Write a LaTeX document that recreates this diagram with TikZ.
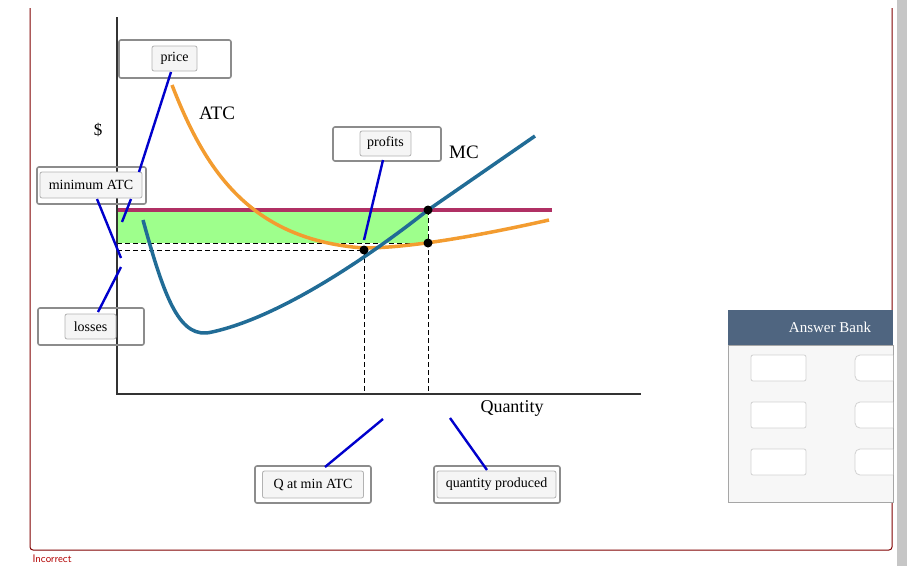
\documentclass[tikz,border=0pt]{standalone}
\usepackage{fontspec}
\setmainfont{Liberation Serif}
\begin{document}
\begin{tikzpicture}[x=1pt,y=-1pt,
  outer/.style={draw=gray!90,line width=1.6pt,rounded corners=2pt},
  inner/.style={draw=gray!60,fill=gray!8,rounded corners=2pt,line width=0.8pt,font=\fontsize{14}{16}\selectfont,inner sep=0pt},
  blue/.style={draw=blue!80!black,line width=2.4pt},
  dot/.style={circle,fill=black,inner sep=0pt,minimum size=9pt},
  dsh/.style={line width=1pt,dash pattern=on 5pt off 3pt},
  bankbtn/.style={draw=gray!35,fill=white,rounded corners=2pt,line width=0.8pt}]
\useasboundingbox (0,0) rectangle (907,566);
\fill[gray!45] (897,0) rectangle (907,566);
\draw[red!50!black,line width=1pt,rounded corners=3pt] (30,8) -- (30,550) -- (892,550) -- (892,8);
\node[anchor=west,text=red!70!black,font=\fontsize{11}{12}\selectfont\sffamily] (inc) at (29,559) {Incorrect};
% shading and lines
\fill[green!80!lime!45] (117,212) rectangle (428,243);
\draw[dsh] (117,243) -- (428,243);
\draw[dsh] (117,250) -- (364,250);
\draw[dsh] (364,250) -- (364,394);
\draw[dsh] (428,210) -- (428,394);
\draw[color={rgb,255:red,176;green,48;blue,100},line width=3.5pt] (117,210) -- (552,210);
% axes
\draw[line width=1.1pt,black!80] (117,17) -- (117,394) -- (641,394);
% ATC
\draw[color={rgb,255:red,243;green,156;blue,48},line width=3.5pt]
  (172,85) .. controls (205,170) and (250,240) .. (364,248)
  .. controls (400,248) and (460,240) .. (549,220);
% MC
\draw[color={rgb,255:red,33;green,108;blue,150},line width=3.5pt]
  (143,220) .. controls (165,300) and (180,340) .. (212,332)
  .. controls (290,315) and (390,240) .. (428,210) -- (535,136);
\node[dot] (d1) at (364,250) {};
\node[dot] (d2) at (428,210) {};
\node[dot] (d3) at (428,243) {};
% labels
\node[font=\fontsize{17}{19}\selectfont] (dol) at (98,130) {\$};
\node[font=\fontsize{19}{21}\selectfont] (atc) at (217,113) {ATC};
\node[font=\fontsize{19}{21}\selectfont] (mc) at (464,152) {MC};
\node[font=\fontsize{18}{20}\selectfont] (qty) at (512,408) {Quantity};
% boxes
\draw[outer] (119,40) rectangle (231,78);
\node[inner,minimum width=45pt,minimum height=25pt] (price) at (174.5,58.5) {price};
\draw[outer] (37,167) rectangle (146,204);
\node[inner,minimum width=102pt,minimum height=26pt] (minatc) at (91,185) {minimum ATC};
\draw[outer] (38,308) rectangle (144,345);
\node[inner,minimum width=51pt,minimum height=25pt] (losses) at (90.5,326.5) {losses};
\draw[outer] (333,127) rectangle (441,161);
\node[inner,minimum width=51pt,minimum height=25pt] (profits) at (385.5,143.5) {profits};
\draw[outer] (255,466) rectangle (371,503);
\node[inner,minimum width=101pt,minimum height=27pt] (qmin) at (313,484.5) {Q at min ATC};
\draw[outer] (434,466) rectangle (560,503);
\node[inner,minimum width=119pt,minimum height=27pt] (qprod) at (496.5,484.5) {quantity produced};
% connectors
\coordinate (p0) at (171,72); \coordinate (p1) at (139,172);
\coordinate (p2) at (131,199); \coordinate (p3) at (122,222);
\coordinate (m0) at (97,199); \coordinate (m1) at (121,258);
\coordinate (l0) at (98,312); \coordinate (l1) at (121,267);
\coordinate (pr0) at (383,160); \coordinate (pr1) at (364,240);
\coordinate (q1) at (383,419); \coordinate (q0) at (325,467);
\coordinate (q2) at (450,418); \coordinate (q3) at (487,470);
\draw[blue] (p0) -- (p1);
\draw[blue] (p2) -- (p3);
\draw[blue] (m0) -- (m1);
\draw[blue] (l0) -- (l1);
\draw[blue] (pr0) -- (pr1);
\draw[blue] (q1) -- (q0);
\draw[blue] (q2) -- (q3);
% answer bank
\draw[gray!70,fill=gray!6,line width=0.8pt] (728,345) rectangle (893,502);
\fill[color={rgb,255:red,79;green,101;blue,128}] (728,310) rectangle (893,345);
\node[text=white,font=\fontsize{15}{17}\selectfont] (ab) at (830,327) {Answer Bank};
\foreach \y in {355,402,449}{
  \draw[bankbtn] (751,\y) rectangle (806,\y+26);
  \draw[bankbtn] (893,\y) -- (858,\y) -- (855,\y+3) -- (855,\y+23) -- (858,\y+26) -- (893,\y+26);
}
\end{tikzpicture}
\end{document}
